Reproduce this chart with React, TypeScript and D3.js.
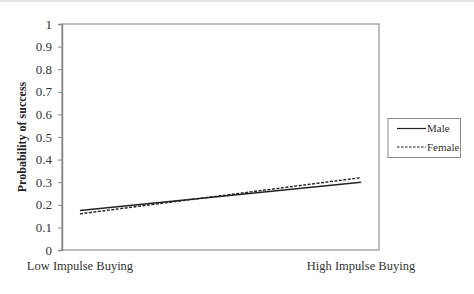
import React, { useEffect, useRef } from "react";
import * as d3 from "d3";

const categories = ["Low Impulse Buying", "High Impulse Buying"];
const maleValues = [0.175, 0.3];
const femaleValues = [0.16, 0.32];
const yTicks = [0, 0.1, 0.2, 0.3, 0.4, 0.5, 0.6, 0.7, 0.8, 0.9, 1];
const seriesNames = ["Male", "Female"];

const W = 474;
const H = 294;
const FONT = "'Liberation Serif', 'Times New Roman', serif";

export default function App() {
  const ref = useRef<SVGSVGElement>(null);

  useEffect(() => {
    const svg = d3.select(ref.current);
    svg.selectAll("*").remove();

    const left = 62, right = 379, top = 24, bottom = 250;

    svg.append("rect").attr("x", 0).attr("y", 0).attr("width", W).attr("height", H).attr("fill", "#fff");
    svg.append("rect").attr("x", 0).attr("y", 0).attr("width", W).attr("height", 2).attr("fill", "#e4e4e4");

    const x = d3.scalePoint<string>().domain(categories).range([left, right]).padding(0.064);
    const y = d3.scaleLinear().domain([0, 1]).range([bottom, top]);

    // plot border
    svg.append("rect")
      .attr("x", left).attr("y", top)
      .attr("width", right - left).attr("height", bottom - top)
      .attr("fill", "none").attr("stroke", "#a8a8a8").attr("stroke-width", 1.5);

    // y axis
    const yAxis = d3.axisLeft(y).tickValues(yTicks).tickSize(4).tickPadding(6)
      .tickFormat((d) => String(d));
    const gy = svg.append("g").attr("transform", `translate(${left},0)`).call(yAxis);
    gy.select(".domain").attr("stroke", "#888").attr("stroke-width", 1.5);
    gy.selectAll(".tick line").attr("stroke", "#888").attr("stroke-width", 1);
    gy.selectAll(".tick text")
      .attr("font-family", FONT).attr("font-size", 13).attr("fill", "#333");

    // x labels
    svg.append("g").selectAll("text").data(categories).join("text")
      .attr("x", (d) => x(d)!)
      .attr("y", 270)
      .attr("text-anchor", "middle")
      .attr("font-family", FONT).attr("font-size", 12.5).attr("fill", "#333")
      .text((d) => d);

    // y title
    svg.append("text")
      .attr("transform", `translate(26,${(top + bottom) / 2}) rotate(-90)`)
      .attr("text-anchor", "middle")
      .attr("font-family", FONT).attr("font-size", 12).attr("font-weight", "bold").attr("fill", "#222")
      .text("Probability of success");

    const line = d3.line<number>().x((_, i) => x(categories[i])!).y((d) => y(d));

    svg.append("path").attr("d", line(maleValues)!)
      .attr("fill", "none").attr("stroke", "#222").attr("stroke-width", 1.4);
    svg.append("path").attr("d", line(femaleValues)!)
      .attr("fill", "none").attr("stroke", "#222").attr("stroke-width", 1.4)
      .attr("stroke-dasharray", "3,1.5");

    // legend
    const lg = svg.append("g");
    lg.append("rect").attr("x", 388).attr("y", 118.5).attr("width", 72.5).attr("height", 39)
      .attr("fill", "#fff").attr("stroke", "#888").attr("stroke-width", 1);
    const dashes = ["none", "2.5,1.5"];
    seriesNames.forEach((name, i) => {
      const ly = 128.5 + i * 18.5;
      lg.append("line").attr("x1", 397).attr("x2", 426).attr("y1", ly).attr("y2", ly)
        .attr("stroke", "#222").attr("stroke-width", 1.2)
        .attr("stroke-dasharray", dashes[i]);
      lg.append("text").attr("x", 427).attr("y", ly + 3.8)
        .attr("font-family", FONT).attr("font-size", 11).attr("fill", "#333")
        .text(name);
    });
  }, []);

  return (
    <svg ref={ref} width={W} height={H}
      style={{ position: "absolute", left: 0, top: 0, display: "block" }} />
  );
}
